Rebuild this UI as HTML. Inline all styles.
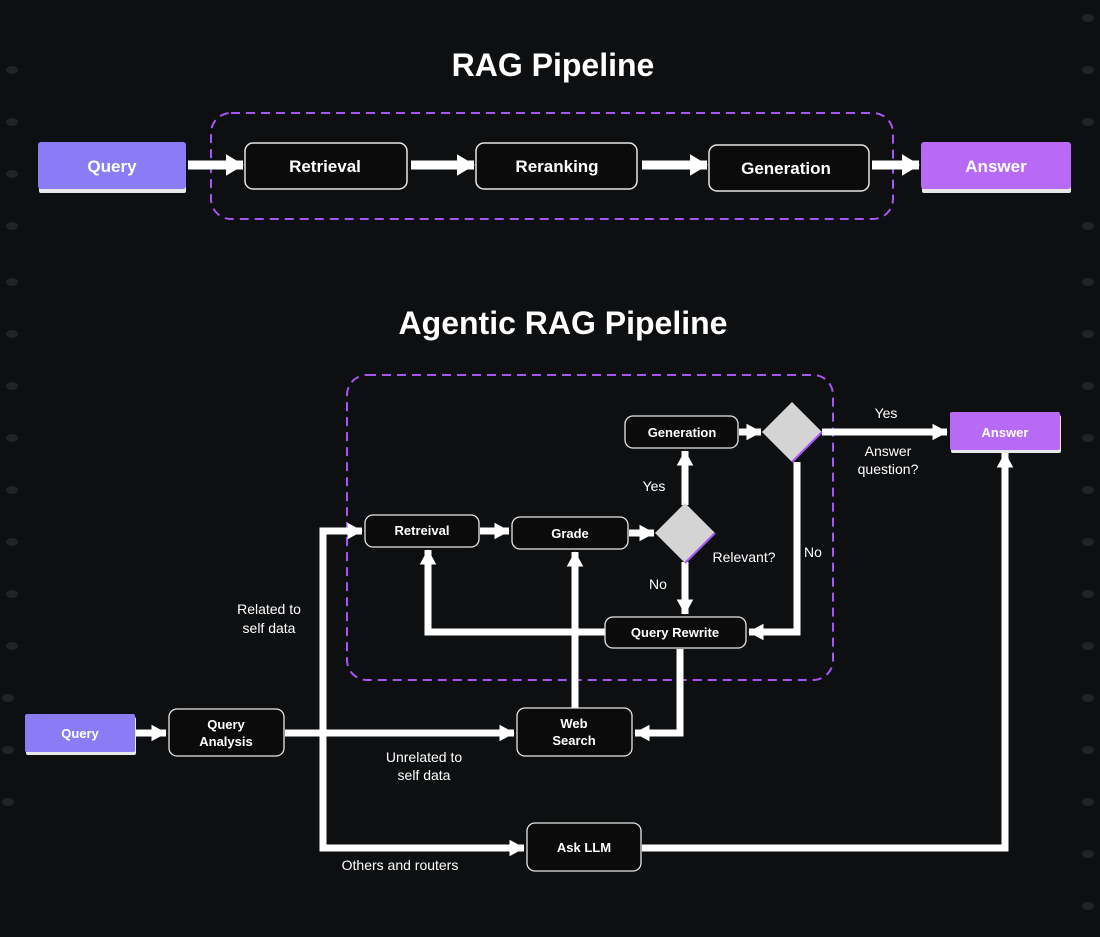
<!DOCTYPE html>
<html><head><meta charset="utf-8"><style>
html,body{margin:0;padding:0;background:#0e0f11;}
svg{display:block}
text{font-family:"Liberation Sans",sans-serif;fill:#fff}
</style></head><body>
<svg width="1100" height="937" viewBox="0 0 1100 937" xmlns="http://www.w3.org/2000/svg">
<defs>
<marker id="a" markerWidth="2" markerHeight="2.4" refX="1.9" refY="1.2" orient="auto" markerUnits="strokeWidth"><path d="M0,0 L2,1.2 L0,2.4 Z" fill="#fff"/></marker>
<marker id="b" markerWidth="2.2" markerHeight="2.4" refX="2.1" refY="1.2" orient="auto" markerUnits="strokeWidth"><path d="M0,0 L2.2,1.2 L0,2.4 Z" fill="#fff"/></marker>
</defs>
<rect width="1100" height="937" fill="#0e0f11"/>
<g fill="#222326">
<ellipse cx="12" cy="70" rx="6" ry="4"/><ellipse cx="12" cy="122" rx="6" ry="4"/><ellipse cx="12" cy="174" rx="6" ry="4"/><ellipse cx="12" cy="226" rx="6" ry="4"/><ellipse cx="12" cy="282" rx="6" ry="4"/><ellipse cx="12" cy="334" rx="6" ry="4"/><ellipse cx="12" cy="386" rx="6" ry="4"/><ellipse cx="12" cy="438" rx="6" ry="4"/><ellipse cx="12" cy="490" rx="6" ry="4"/><ellipse cx="12" cy="542" rx="6" ry="4"/><ellipse cx="12" cy="594" rx="6" ry="4"/><ellipse cx="12" cy="646" rx="6" ry="4"/><ellipse cx="8" cy="698" rx="6" ry="4"/><ellipse cx="8" cy="750" rx="6" ry="4"/><ellipse cx="8" cy="802" rx="6" ry="4"/>
<ellipse cx="1088" cy="18" rx="6" ry="4"/><ellipse cx="1088" cy="70" rx="6" ry="4"/><ellipse cx="1088" cy="122" rx="6" ry="4"/><ellipse cx="1088" cy="226" rx="6" ry="4"/><ellipse cx="1088" cy="282" rx="6" ry="4"/><ellipse cx="1088" cy="334" rx="6" ry="4"/><ellipse cx="1088" cy="386" rx="6" ry="4"/><ellipse cx="1088" cy="438" rx="6" ry="4"/><ellipse cx="1088" cy="490" rx="6" ry="4"/><ellipse cx="1088" cy="542" rx="6" ry="4"/><ellipse cx="1088" cy="594" rx="6" ry="4"/><ellipse cx="1088" cy="646" rx="6" ry="4"/><ellipse cx="1088" cy="698" rx="6" ry="4"/><ellipse cx="1088" cy="750" rx="6" ry="4"/><ellipse cx="1088" cy="802" rx="6" ry="4"/><ellipse cx="1088" cy="854" rx="6" ry="4"/><ellipse cx="1088" cy="906" rx="6" ry="4"/>
</g>

<text x="553" y="76" font-size="32" font-weight="bold" text-anchor="middle">RAG Pipeline</text>
<text x="563" y="334" font-size="32" font-weight="bold" text-anchor="middle">Agentic RAG Pipeline</text>

<!-- top -->
<rect x="211" y="113" width="682" height="106" rx="20" fill="none" stroke="#a855f7" stroke-width="2" stroke-dasharray="9,6"/>
<g stroke="#fff" stroke-width="9" fill="none" marker-end="url(#a)">
<line x1="188" y1="165" x2="243" y2="165"/>
<line x1="411" y1="165" x2="474" y2="165"/>
<line x1="642" y1="165" x2="707" y2="165"/>
<line x1="872" y1="165" x2="919" y2="165"/>
</g>
<rect x="39" y="145" width="147" height="48" rx="2" fill="#e8e8e8"/>
<rect x="38" y="142" width="148" height="47" rx="3" fill="#8b7cf6"/>
<text x="112" y="172" font-size="17" font-weight="bold" text-anchor="middle">Query</text>
<rect x="922" y="145" width="149" height="48" rx="2" fill="#e8e8e8"/>
<rect x="921" y="142" width="150" height="47" rx="3" fill="#b66af5"/>
<text x="996" y="172" font-size="17" font-weight="bold" text-anchor="middle">Answer</text>
<g fill="#0b0b0c" stroke="#e6e6e6" stroke-width="1.5">
<rect x="245" y="143" width="162" height="46" rx="8"/>
<rect x="476" y="143" width="161" height="46" rx="8"/>
<rect x="709" y="145" width="160" height="46" rx="8"/>
</g>
<g font-size="17" font-weight="bold" text-anchor="middle">
<text x="325" y="172">Retrieval</text><text x="557" y="172">Reranking</text><text x="786" y="174">Generation</text>
</g>

<!-- bottom -->
<rect x="347" y="375" width="486" height="305" rx="20" fill="none" stroke="#a855f7" stroke-width="2" stroke-dasharray="9,6"/>
<g stroke="#fff" stroke-width="7" fill="none">
<line x1="136" y1="733" x2="166" y2="733" marker-end="url(#b)"/>
<line x1="285" y1="733" x2="514" y2="733" marker-end="url(#b)"/>
<polyline points="355,531 323,531 323,848 518,848"/>
<line x1="330" y1="531" x2="362" y2="531" marker-end="url(#b)"/>
<line x1="500" y1="848" x2="524" y2="848" marker-end="url(#b)"/>
<line x1="575" y1="708" x2="575" y2="552" marker-end="url(#b)"/>
<polyline points="680,649 680,733 635,733" marker-end="url(#b)"/>
<polyline points="605,632 428,632 428,550" marker-end="url(#b)"/>
<line x1="480" y1="531" x2="509" y2="531" marker-end="url(#b)"/>
<line x1="629" y1="533" x2="654" y2="533" marker-end="url(#b)"/>
<line x1="685" y1="505" x2="685" y2="451" marker-end="url(#b)"/>
<line x1="685" y1="562" x2="685" y2="614" marker-end="url(#b)"/>
<line x1="739" y1="432" x2="761" y2="432" marker-end="url(#b)"/>
<line x1="822" y1="432" x2="947" y2="432" marker-end="url(#b)"/>
<polyline points="797,462 797,632 749,632" marker-end="url(#b)"/>
<polyline points="642,848 1005,848 1005,453" marker-end="url(#b)"/>
</g>
<rect x="26" y="717" width="110" height="38" rx="2" fill="#e8e8e8"/>
<rect x="25" y="714" width="110" height="38" rx="2" fill="#8b7cf6"/>
<text x="80" y="738" font-size="13" font-weight="bold" text-anchor="middle">Query</text>
<rect x="951" y="415" width="110" height="38" rx="2" fill="#e8e8e8"/>
<rect x="950" y="412" width="110" height="38" rx="2" fill="#b66af5"/>
<text x="1005" y="437" font-size="13" font-weight="bold" text-anchor="middle">Answer</text>
<g fill="#0b0b0c" stroke="#e6e6e6" stroke-width="1.3">
<rect x="625" y="416" width="113" height="32" rx="8"/>
<rect x="365" y="515" width="114" height="32" rx="8"/>
<rect x="512" y="517" width="116" height="32" rx="8"/>
<rect x="605" y="617" width="141" height="31" rx="8"/>
<rect x="169" y="709" width="115" height="47" rx="8"/>
<rect x="517" y="708" width="115" height="48" rx="8"/>
<rect x="527" y="823" width="114" height="48" rx="8"/>
</g>
<polygon points="792,402 822,432 792,462 762,432" fill="#d4d4d4"/>
<polyline points="822,432 792,462" stroke="#a855f7" stroke-width="2" fill="none"/>
<polygon points="685,503 715,533 685,563 655,533" fill="#d4d4d4"/>
<polyline points="715,533 685,563" stroke="#a855f7" stroke-width="2" fill="none"/>
<g font-size="13" font-weight="bold" text-anchor="middle">
<text x="682" y="437">Generation</text>
<text x="422" y="535">Retreival</text>
<text x="570" y="538">Grade</text>
<text x="675" y="637">Query Rewrite</text>
<text x="226" y="729">Query</text><text x="226" y="746">Analysis</text>
<text x="574" y="728">Web</text><text x="574" y="745">Search</text>
<text x="584" y="852">Ask LLM</text>
</g>
<g font-size="14" text-anchor="middle" fill="#e6e6e6">
<text x="886" y="418">Yes</text>
<text x="888" y="456">Answer</text><text x="888" y="474">question?</text>
<text x="654" y="491">Yes</text>
<text x="744" y="562">Relevant?</text>
<text x="658" y="589">No</text>
<text x="813" y="557">No</text>
<text x="269" y="614">Related to</text><text x="269" y="633">self data</text>
<text x="424" y="762">Unrelated to</text><text x="424" y="780">self data</text>
<text x="400" y="870">Others and routers</text>
</g>
</svg>
</body></html>
